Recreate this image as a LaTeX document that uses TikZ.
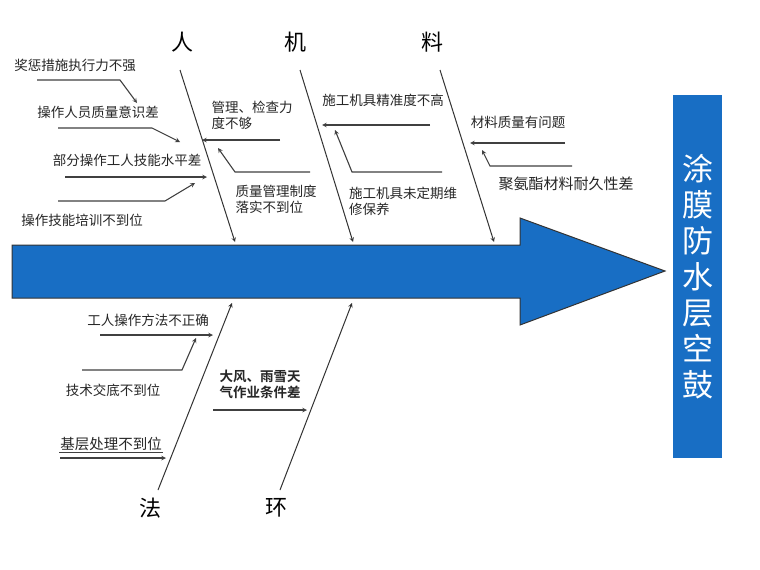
\documentclass[tikz,border=0pt]{standalone}
\usepackage{fontspec}
\newfontfamily\cjk{Noto Sans CJK SC}
\newfontfamily\cjkb{Noto Sans CJK SC Bold}
\begin{document}
\begin{tikzpicture}[x=1pt,y=-1pt,
  bone/.style={draw=black!80,line width=1pt,-stealth},
  sub/.style={draw=black!75,line width=1.1pt,-stealth},
  lbl/.style={font=\cjk\fontsize{13.5}{16}\selectfont,text=black!85,inner sep=1pt,align=left},
  cat/.style={font=\cjk\fontsize{22}{24}\selectfont,inner sep=0pt}]
\useasboundingbox (0,0) rectangle (760,570);
\fill[white] (0,0) rectangle (760,570);
% big arrow
\draw[fill={rgb,255:red,24;green,110;blue,196},draw=black!80,line width=1pt]
 (12,245) -- (520,245) -- (520,218) -- (665,271) -- (520,325) -- (520,298) -- (12,298) -- cycle;
% effect box
\node[fill={rgb,255:red,24;green,110;blue,196},minimum width=49pt,minimum height=363pt,inner sep=0pt,
  font=\cjk\fontsize{31}{36}\selectfont,text=white,align=center] (eff) at (697.5,276.5)
  {涂\\膜\\防\\水\\层\\空\\鼓};
% categories
\node[cat] (ren) at (182,42) {人};
\node[cat] (ji) at (295,42) {机};
\node[cat] (liao) at (432,42) {料};
\node[cat] (fa) at (150,508) {法};
\node[cat] (huan) at (276,508) {环};
\coordinate (r0) at (180,70); \coordinate (r1) at (235,242);
\coordinate (j0) at (300,70); \coordinate (j1) at (353,242);
\coordinate (l0) at (440,70); \coordinate (l1) at (494,242);
\coordinate (f0) at (158,490); \coordinate (f1) at (232,303);
\coordinate (h0) at (280,490); \coordinate (h1) at (352,303);
\draw[bone] (r0) -- (r1);
\draw[bone] (j0) -- (j1);
\draw[bone] (l0) -- (l1);
\draw[bone] (f0) -- (f1);
\draw[bone] (h0) -- (h1);
% 人
\node[lbl] (a1) at (75,65) {奖惩措施执行力不强};
\coordinate (a1s) at (37,80); \coordinate (a1e) at (137,103);
\draw[sub] (a1s) -- (120,80) -- (a1e);
\node[lbl] (a2) at (98,112) {操作人员质量意识差};
\coordinate (a2s) at (58,128); \coordinate (a2e) at (180,142);
\draw[sub] (a2s) -- (152,128) -- (a2e);
\node[lbl] (a3) at (127,160) {部分操作工人技能水平差};
\coordinate (a3s) at (65,177); \coordinate (a3e) at (207,177);
\draw[sub] (a3s) -- (a3e);
\node[lbl] (a4) at (82,220) {操作技能培训不到位};
\coordinate (a4s) at (58,201); \coordinate (a4e) at (195,183);
\draw[sub] (a4s) -- (165,201) -- (a4e);
\node[lbl] (a5) at (252,115) {管理、检查力\\度不够};
\coordinate (a5s) at (280,140); \coordinate (a5e) at (202,140);
\draw[sub] (a5s) -- (a5e);
\node[lbl] (a6) at (276,199) {质量管理制度\\落实不到位};
\coordinate (a6s) at (310,172); \coordinate (a6e) at (218,148);
\draw[sub] (a6s) -- (235,172) -- (a6e);
% 机
\node[lbl] (b1) at (383,100) {施工机具精准度不高};
\coordinate (b1s) at (430,125); \coordinate (b1e) at (322,125);
\draw[sub] (b1s) -- (b1e);
\node[lbl] (b2) at (403,201) {施工机具未定期维\\修保养};
\coordinate (b2s) at (442,172); \coordinate (b2e) at (335,130);
\draw[sub] (b2s) -- (352,172) -- (b2e);
% 料
\node[lbl] (c1) at (518,122) {材料质量有问题};
\coordinate (c1s) at (565,143); \coordinate (c1e) at (470,143);
\draw[sub] (c1s) -- (c1e);
\node[lbl,font=\cjk\fontsize{15}{17}\selectfont] (c2) at (566,184) {聚氨酯材料耐久性差};
\coordinate (c2s) at (572,166); \coordinate (c2e) at (482,150);
\draw[sub] (c2s) -- (490,166) -- (c2e);
% 法
\node[lbl] (d1) at (148,320) {工人操作方法不正确};
\coordinate (d1s) at (100,335); \coordinate (d1e) at (213,335);
\draw[sub] (d1s) -- (d1e);
\node[lbl] (d2) at (113,390) {技术交底不到位};
\coordinate (d2s) at (82,370); \coordinate (d2e) at (196,338);
\draw[sub] (d2s) -- (182,370) -- (d2e);
\node[lbl,font=\cjk\fontsize{14.5}{16}\selectfont] (d3) at (111,444) {基层处理不到位};
\draw[black!75,line width=0.6pt] (d3.south west) -- (d3.south east);
\coordinate (d3s) at (60,458); \coordinate (d3e) at (166,458);
\draw[sub] (d3s) -- (d3e);
% 环
\node[lbl,font=\cjkb\fontsize{13.5}{16}\selectfont] (e1) at (260,384) {大风、雨雪天\\气作业条件差};
\coordinate (e1s) at (213,410); \coordinate (e1e) at (307,410);
\draw[sub] (e1s) -- (e1e);
\end{tikzpicture}
\end{document}
